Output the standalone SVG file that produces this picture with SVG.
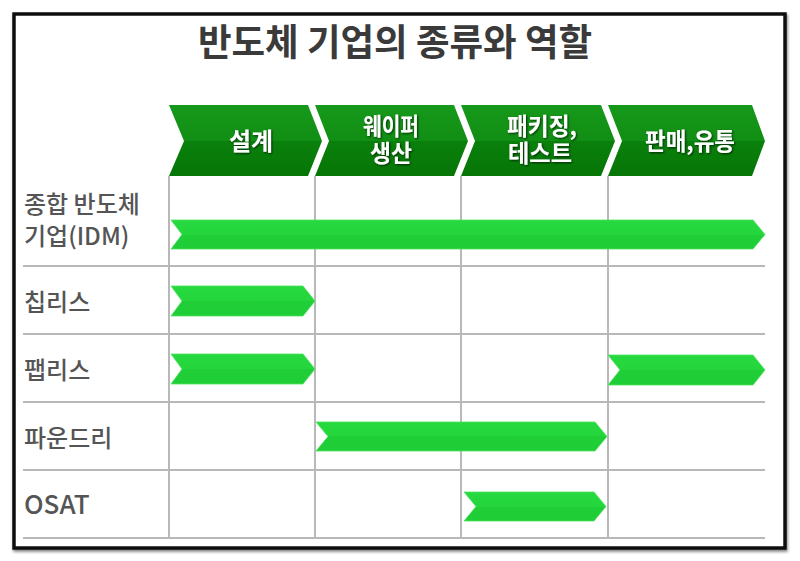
<svg xmlns="http://www.w3.org/2000/svg" width="800" height="561" viewBox="0 0 800 561">
<defs>
<linearGradient id="hg" x1="0" y1="0" x2="0" y2="1">
<stop offset="0" stop-color="#16991a"/><stop offset="0.5" stop-color="#118e14"/><stop offset="0.5" stop-color="#0a800c"/><stop offset="1" stop-color="#067606"/>
</linearGradient>
<linearGradient id="bg" x1="0" y1="0" x2="0" y2="1">
<stop offset="0" stop-color="#26d93e"/><stop offset="0.5" stop-color="#24d63c"/><stop offset="0.5" stop-color="#20cf37"/><stop offset="1" stop-color="#1fcd36"/>
</linearGradient>
<filter id="sh" x="-5%" y="-5%" width="110%" height="110%">
<feGaussianBlur in="SourceAlpha" stdDeviation="1.5"/>
<feOffset dx="1" dy="1.5" result="b"/>
<feComponentTransfer><feFuncA type="linear" slope="0.5"/></feComponentTransfer>
<feMerge><feMergeNode/><feMergeNode in="SourceGraphic"/></feMerge>
</filter>
<filter id="ts" x="-10%" y="-10%" width="120%" height="130%">
<feGaussianBlur in="SourceAlpha" stdDeviation="1"/>
<feOffset dx="1" dy="1" result="b"/>
<feComponentTransfer><feFuncA type="linear" slope="0.7"/></feComponentTransfer>
<feMerge><feMergeNode/><feMergeNode in="SourceGraphic"/></feMerge>
</filter>
</defs>
<style>
.title{font-family:"Noto Sans CJK KR","Noto Sans",sans-serif;font-weight:700;font-size:37px;fill:#3a3a3a}
.hd{font-family:"Noto Sans CJK KR","Noto Sans",sans-serif;font-weight:700;font-size:24px;fill:#ffffff;text-anchor:middle}
.lb{font-family:"Noto Sans CJK KR","Noto Sans",sans-serif;font-weight:500;font-size:24px;fill:#555555}
.grid{stroke:#b8b8b8;stroke-width:2;fill:none}
.hch{fill:url(#hg)}
.bar{fill:url(#bg);stroke:#4be35e;stroke-width:0.8}
</style>
<rect x="0" y="0" width="800" height="561" fill="#ffffff"/>
<rect x="14" y="14" width="771" height="534" fill="#ffffff" stroke="#111111" stroke-width="3.5" filter="url(#sh)"/>
<text class="title" x="198" y="56" textLength="394" lengthAdjust="spacingAndGlyphs">반도체 기업의 종류와 역할</text>
<g id="grid" class="grid">
<line x1="169" y1="176" x2="169" y2="538"/>
<line x1="315" y1="176" x2="315" y2="538"/>
<line x1="461" y1="176" x2="461" y2="538"/>
<line x1="608" y1="176" x2="608" y2="538"/>
<line x1="23" y1="266" x2="765" y2="266"/>
<line x1="23" y1="334" x2="765" y2="334"/>
<line x1="23" y1="402" x2="765" y2="402"/>
<line x1="23" y1="470" x2="765" y2="470"/>
<line x1="23" y1="538" x2="765" y2="538"/>
</g>
<g id="h1"><polygon class="hch" points="169,105 308,105 322,141 308,176 169,176 184,141"/><text class="hd" x="251" y="150" textLength="44" lengthAdjust="spacingAndGlyphs" filter="url(#ts)">설계</text></g>
<g id="h2"><polygon class="hch" points="315,105 454,105 468,141 454,176 315,176 329,141"/><text class="hd" x="391" y="135" textLength="56" lengthAdjust="spacingAndGlyphs" filter="url(#ts)">웨이퍼</text><text class="hd" x="391" y="162" textLength="42" lengthAdjust="spacingAndGlyphs" filter="url(#ts)">생산</text></g>
<g id="h3"><polygon class="hch" points="461,105 601,105 615,141 601,176 461,176 475,141"/><text class="hd" x="542" y="135" textLength="70" lengthAdjust="spacingAndGlyphs" filter="url(#ts)">패키징,</text><text class="hd" x="540" y="162" textLength="64" lengthAdjust="spacingAndGlyphs" filter="url(#ts)">테스트</text></g>
<g id="h4"><polygon class="hch" points="608,105 752,105 765,141 752,176 608,176 622,141"/><text class="hd" x="690" y="150" textLength="90" lengthAdjust="spacingAndGlyphs" filter="url(#ts)">판매,유통</text></g>
<g id="r1"><text class="lb"><tspan x="24" y="213">종합 반도체</tspan><tspan x="24" y="245">기업(IDM)</tspan></text></g>
<g id="r2"><text class="lb" x="24" y="311">칩리스</text></g>
<g id="r3"><text class="lb" x="24" y="379">팹리스</text></g>
<g id="r4"><text class="lb" x="24" y="447">파운드리</text></g>
<g id="r5"><text class="lb" x="24" y="514" style="font-size:26px">OSAT</text></g>
<g id="bars">
<polygon class="bar" points="171,220 753,220 765,234.5 753,249 171,249 182,234.5"/>
<polygon class="bar" points="171,286 303,286 315,301 303,316 171,316 182,301"/>
<polygon class="bar" points="171,354 303,354 315,369 303,384 171,384 182,369"/>
<polygon class="bar" points="608,355 753,355 765,370 753,385 608,385 620,370"/>
<polygon class="bar" points="316,422 595,422 607,436.5 595,451 316,451 328,436.5"/>
<polygon class="bar" points="464,492 594,492 606,506.5 594,521 464,521 476,506.5"/>
</g>
</svg>
